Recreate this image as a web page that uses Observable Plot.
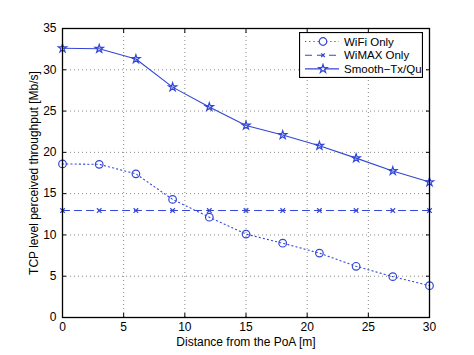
<!DOCTYPE html>
<html>
<head>
<meta charset="utf-8">
<script src="https://cdn.jsdelivr.net/npm/d3@7"></script>
<script src="https://cdn.jsdelivr.net/npm/@observablehq/plot@0.6"></script>
<style>
  html, body { margin: 0; padding: 0; background: #fff; }
  #wrap { position: relative; width: 474px; height: 355px; font-family: "Liberation Sans", Arial, sans-serif; }
  #legend { position: absolute; left: 299px; top: 32px; }
</style>
</head>
<body>
<div id="wrap"><div id="chart"></div><div id="legend"></div></div>
<script>
const distances = [0, 3, 6, 9, 12, 15, 18, 21, 24, 27, 30];
const wifiOnly  = [18.6, 18.55, 17.4, 14.3, 12.15, 10.1, 9.0, 7.8, 6.2, 4.95, 3.85];
const wimaxOnly = [12.95, 12.95, 12.95, 12.95, 12.95, 12.95, 12.95, 12.95, 12.95, 12.95, 12.95];
const smoothTx  = [32.6, 32.55, 31.3, 27.9, 25.5, 23.25, 22.1, 20.8, 19.3, 17.75, 16.4];
const seriesNames = ["WiFi Only", "WiMAX Only", "Smooth\u2212Tx/Qu"];
const xTicks = [0, 5, 10, 15, 20, 25, 30];
const yTicks = [0, 5, 10, 15, 20, 25, 30, 35];
const xLabel = "Distance from the PoA [m]";
const yLabel = "TCP level perceived throughput [Mb/s]";

const blue = "#3246d8";
const styles = [
  {dash: "1.2,3", symbol: "circle", r: 3.8},
  {dash: "7,5", symbol: "times", r: 2.2},
  {dash: null, symbol: "star", r: 2.6}
];
const seriesValues = [wifiOnly, wimaxOnly, smoothTx];
const rows = [];
seriesNames.forEach((name, s) => distances.forEach((d, i) => rows.push({series: name, s, x: d, y: seriesValues[s][i]})));

const marks = [
  Plot.gridX(xTicks, {stroke: "#888", strokeOpacity: 1, strokeDasharray: "1,3"}),
  Plot.gridY(yTicks, {stroke: "#888", strokeOpacity: 1, strokeDasharray: "1,3"}),
];
seriesNames.forEach((name, s) => {
  const data = rows.filter(r => r.s === s);
  marks.push(Plot.line(data, {x: "x", y: "y", stroke: blue, strokeWidth: 1.1, strokeDasharray: styles[s].dash}));
  marks.push(Plot.dot(data, {x: "x", y: "y", stroke: blue, fill: "none", symbol: styles[s].symbol, r: styles[s].r, strokeWidth: 1.2}));
});
marks.push(
  Plot.axisX(xTicks, {anchor: "bottom", tickSize: -4, tickPadding: 9, label: xLabel, labelAnchor: "center", labelArrow: "none", labelOffset: 28, fontSize: "12px", stroke: "black"}),
  Plot.axisX(xTicks, {anchor: "top", tickSize: -4, tickFormat: () => "", label: null, stroke: "black"}),
  Plot.axisY(yTicks, {anchor: "left", tickSize: -4, tickPadding: 10, label: yLabel, labelAnchor: "center", labelArrow: "none", labelOffset: 33, fontSize: "12px", stroke: "black"}),
  Plot.axisY(yTicks, {anchor: "right", tickSize: -4, tickFormat: () => "", label: null, stroke: "black"}),
  Plot.frame({stroke: "black", strokeWidth: 1.3})
);

const chart = Plot.plot({
  width: 474,
  height: 355,
  marginLeft: 62,
  marginRight: 45,
  marginTop: 28,
  marginBottom: 38,
  style: {fontFamily: "'Liberation Sans', Arial, sans-serif", fontSize: "12px", color: "black", background: "white"},
  x: {domain: [0, 30]},
  y: {domain: [0, 35]},
  marks
});
document.getElementById("chart").append(chart);

// Legend
const lw = 124, lh = 46, rowH = 13.7;
const leg = d3.select("#legend").append("svg").attr("width", lw).attr("height", lh)
  .style("font-family", "'Liberation Sans', Arial, sans-serif").style("font-size", "11.5px");
leg.append("rect").attr("x", 0.5).attr("y", 0.5).attr("width", lw - 1).attr("height", lh - 1)
  .attr("fill", "white").attr("stroke", "black").attr("stroke-width", 1.2);
const symArea = {circle: Math.PI * 3.8 ** 2, times: 10, star: 22};
seriesNames.forEach((name, s) => {
  const cy = 9.5 + s * rowH;
  leg.append("line").attr("x1", 6).attr("x2", 40).attr("y1", cy).attr("y2", cy)
    .attr("stroke", blue).attr("stroke-width", 1.1).attr("stroke-dasharray", styles[s].dash);
  const sym = {circle: d3.symbolCircle, times: d3.symbolTimes, star: d3.symbolStar}[styles[s].symbol];
  leg.append("path").attr("d", d3.symbol(sym, symArea[styles[s].symbol])()).attr("transform", `translate(24,${cy})`)
    .attr("fill", "white").attr("stroke", blue).attr("stroke-width", 1.2);
  leg.append("text").attr("x", 45).attr("y", cy).attr("dy", "0.35em").text(name);
});
</script>
</body>
</html>
